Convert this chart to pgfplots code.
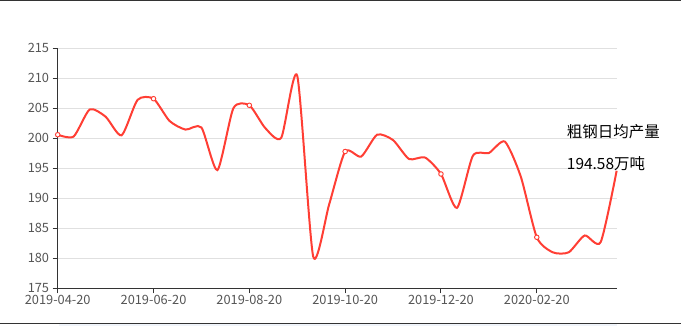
\documentclass[border=0pt]{standalone}
\usepackage{pgfplots}
\pgfplotsset{compat=1.18}
\usepackage{fontspec}
\setmainfont{Noto Sans CJK SC}
\newfontfamily\cjk{Noto Sans CJK SC}
\definecolor{linered}{RGB}{255,62,52}
\definecolor{gridgray}{RGB}{224,224,224}
\definecolor{axisdark}{RGB}{51,51,51}
\definecolor{ticktext}{RGB}{85,85,85}
\definecolor{stripblue}{RGB}{240,244,250}
\pgfplotstableread{
x y
0 200.6
1 200.3
2 204.8
3 203.6
4 200.5
5 206.4
6 206.6
7 202.9
8 201.45
9 201.8
10 194.7
11 205.0
12 205.5
13 201.7
14 200.1
15 210.4
16 180.3
17 189.0
18 197.8
19 196.95
20 200.6
21 199.7
22 196.55
23 196.8
24 194.05
25 188.4
26 197.1
27 197.55
28 199.45
29 193.6
30 183.5
31 181.0
32 181.0
33 183.8
34 182.7
35 194.58
}\steel
\begin{document}
\begin{tikzpicture}
\useasboundingbox (0,0) rectangle (510.75pt,244.5pt);
% frame decorations
\fill[axisdark] (0,243.75pt) rectangle (510.75pt,244.5pt);
\fill[stripblue] (44.5pt,0) rectangle (462.5pt,1.6pt);
\fill[axisdark] (0,1.6pt) rectangle (510.75pt,2.4pt);
\begin{axis}[
  at={(43.275pt,28.275pt)}, anchor=south west,
  scale only axis, width=419.2pt, height=180pt,
  xmin=0, xmax=35, ymin=175, ymax=215,
  axis lines*=left,
  axis line style={axisdark, line width=0.75pt},
  xtick={0,6,12,18,24,30},
  xticklabels={2019-04-20,2019-06-20,2019-08-20,2019-10-20,2019-12-20,2020-02-20},
  ytick={175,180,...,215},
  ymajorgrids, grid style={gridgray, line width=0.75pt},
  tick align=outside, major tick length=3.75pt,
  tick style={axisdark, line width=0.75pt},
  every tick label/.append style={font=\fontsize{9.6}{10}\selectfont, text=ticktext},
  xticklabel style={inner sep=1pt},
  yticklabel style={inner sep=2.5pt},
  /pgf/number format/assume math mode=true,
  clip=false,
]
\addplot[linered, line width=1.5pt, smooth, tension=0.4,
  mark=*, mark repeat=6, mark size=1.7pt,
  mark options={fill=white, draw=linered, line width=0.7pt, solid}]
  table[x=x, y=y] {\steel};
\end{axis}
\node[anchor=west, inner sep=0pt, font=\cjk\fontsize{11.6}{12}\selectfont, text=black] at (425pt,145.7pt) {粗钢日均产量};
\node[anchor=west, inner sep=0pt, font=\cjk\fontsize{11.6}{12}\selectfont, text=black] at (425pt,122pt) {194.58万吨};
\end{tikzpicture}
\end{document}
